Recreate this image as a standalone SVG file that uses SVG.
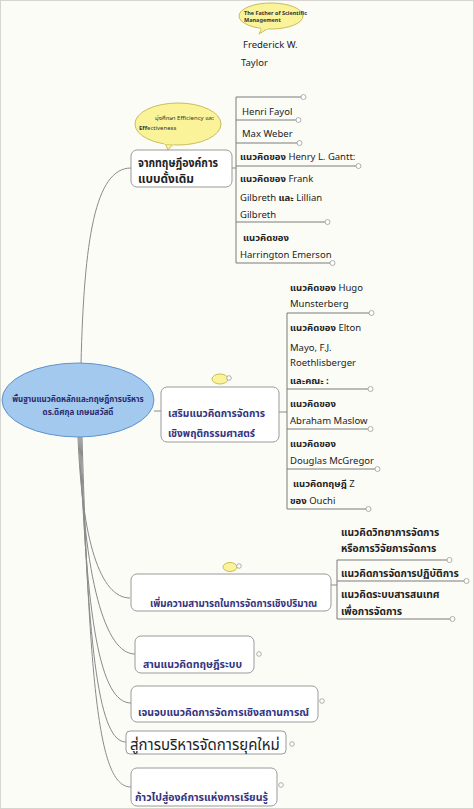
<svg xmlns="http://www.w3.org/2000/svg" width="474" height="809" viewBox="0 0 474 809">
<defs>
<style>
.bg{fill:#fcfcf7}
.box{fill:#ffffff;stroke:#9a9a9a;stroke-width:1}
.conn{fill:none;stroke:#8a8a8a;stroke-width:1}
.ul{fill:none;stroke:#7a7a7a;stroke-width:1}
.dot{fill:#ffffff;stroke:#9a9a9a;stroke-width:0.8}
.callout{fill:#fbf39a;stroke:#c9bd5a;stroke-width:1}
.t{font-family:"Noto Sans Thai","Noto Sans","Liberation Sans",sans-serif}
.leaf{font-size:9.5px;fill:#222}
.th{font-weight:bold}
.n1{font-size:11.5px;fill:#222;font-weight:bold}
.nb{font-size:11px;fill:#34347f;font-weight:bold}
.root{font-size:8px;fill:#2a2a6a;font-weight:bold}
.l3{font-size:10.2px}
</style>
</defs>
<rect class="bg" x="0" y="0" width="474" height="809"/>
<rect x="0.5" y="0.5" width="473" height="808" fill="none" stroke="#d6d6d0"/>

<g id="connectors">
<path class="conn" d="M81 364 C84 240 95 168 131 168"/>
<path class="conn" d="M154 411 L161 411"/>
<path class="conn" d="M78 437 C82 540 100 598 130 598"/>
<path class="conn" d="M79 437 C84 580 105 654 135 654"/>
<path class="conn" d="M80 437 C86 620 100 703 131 703"/>
<path class="conn" d="M81 437 C88 660 100 742 126 742"/>
<path class="conn" d="M82 437 C90 700 100 787 131 787"/>
<path class="conn" d="M232 168 L236 168"/>
<path class="conn" d="M279 412 L287 412"/>
<path class="conn" d="M331 585 L337 585"/>
</g>

<g id="root">
<ellipse cx="78" cy="400" rx="76" ry="37" fill="#a3c9ee" stroke="#5f93cf" stroke-width="1"/>
<text class="t root" x="78" y="402" text-anchor="middle">พื้นฐานแนวคิดหลักและทฤษฎีการบริหาร</text>
<text class="t root" x="78" y="415" text-anchor="middle">ดร.ดิศกุล  เกษมสวัสดิ์</text>
</g>

<g id="taylor">
<path class="callout" d="M262 28 L259 34 L268 28.5"/>
<ellipse class="callout" cx="271" cy="16" rx="32" ry="13"/>
<path d="M261 28.5 L268 28.5" stroke="#fbf39a" stroke-width="1.5"/>
<text class="t" x="244" y="15" font-size="5.5" font-weight="bold" fill="#333">The Father of Scientific</text>
<text class="t" x="244" y="22" font-size="5.5" font-weight="bold" fill="#333">Management</text>
<text class="t leaf" x="243" y="48">Frederick W.</text>
<text class="t leaf" x="241" y="66">Taylor</text>
</g>

<g id="node1">
<path class="callout" d="M165 143 L168 150 L173 144"/>
<ellipse class="callout" cx="178" cy="124" rx="43" ry="21"/>
<path d="M164 143 L174 143.5" stroke="#fbf39a" stroke-width="2"/>
<text class="t" x="155" y="120" font-size="6" fill="#333">มุ่งศึกษา Efficiency และ</text>
<text class="t" x="139" y="130" font-size="6" fill="#333"><tspan font-weight="bold">Eff</tspan>ectiveness</text>
<rect class="box" x="131" y="150" width="101" height="37" rx="6"/>
<text class="t n1" x="138" y="167" textLength="80" lengthAdjust="spacingAndGlyphs">จากทฤษฎีองค์การ</text>
<text class="t n1" x="138" y="183" textLength="56" lengthAdjust="spacingAndGlyphs">แบบดั้งเดิม</text>
</g>

<g id="node1-children">
<path class="ul" d="M236 97 L236 263"/>
<path class="ul" d="M236 97 L301 97"/><circle class="dot" cx="303.5" cy="97" r="2.5"/>
<text class="t leaf" x="242" y="115">Henri Fayol</text>
<path class="ul" d="M236 120 L296 120"/><circle class="dot" cx="298.5" cy="120" r="2.5"/>
<text class="t leaf" x="242" y="137">Max Weber</text>
<path class="ul" d="M236 143 L297 143"/><circle class="dot" cx="299.5" cy="143" r="2.5"/>
<text class="t leaf" x="240" y="160"><tspan class="th">แนวคิดของ</tspan> Henry L. Gantt:</text>
<path class="ul" d="M236 166 L356 166"/><circle class="dot" cx="358.5" cy="166" r="2.5"/>
<text class="t leaf" x="240" y="182"><tspan class="th">แนวคิดของ</tspan> Frank</text>
<text class="t leaf" x="240" y="201">Gilbreth <tspan class="th">และ</tspan> Lillian</text>
<text class="t leaf" x="240" y="218">Gilbreth</text>
<path class="ul" d="M236 222 L325 222"/><circle class="dot" cx="327.5" cy="222" r="2.5"/>
<text class="t leaf th" x="243" y="241">แนวคิดของ</text>
<text class="t leaf" x="240" y="258">Harrington Emerson</text>
<path class="ul" d="M236 263 L330 263"/><circle class="dot" cx="332.5" cy="263" r="2.5"/>
</g>

<g id="node2">
<ellipse class="callout" cx="220" cy="379" rx="8" ry="5"/>
<circle class="dot" cx="229" cy="378" r="2.3"/>
<rect class="box" x="161" y="387" width="118" height="55" rx="6"/>
<text class="t nb" x="168" y="417" textLength="97" lengthAdjust="spacingAndGlyphs">เสริมแนวคิดการจัดการ</text>
<text class="t nb" x="168" y="437" textLength="87" lengthAdjust="spacingAndGlyphs">เชิงพฤติกรรมศาสตร์</text>
</g>

<g id="node2-children">
<path class="ul" d="M287 313 L287 509"/>
<text class="t leaf" x="290" y="291"><tspan class="th">แนวคิดของ</tspan> Hugo</text>
<text class="t leaf" x="290" y="307">Munsterberg</text>
<path class="ul" d="M287 313 L369 313"/><circle class="dot" cx="371.5" cy="313" r="2.5"/>
<text class="t leaf" x="290" y="331"><tspan class="th">แนวคิดของ</tspan> Elton</text>
<text class="t leaf" x="290" y="351">Mayo, F.J.</text>
<text class="t leaf" x="290" y="366">Roethlisberger</text>
<text class="t leaf th" x="290" y="384">และคณะ :</text>
<path class="ul" d="M287 389 L368 389"/><circle class="dot" cx="370.5" cy="389" r="2.5"/>
<text class="t leaf th" x="290" y="407">แนวคิดของ</text>
<text class="t leaf" x="290" y="424">Abraham Maslow</text>
<path class="ul" d="M287 429 L368 429"/><circle class="dot" cx="370.5" cy="429" r="2.5"/>
<text class="t leaf th" x="290" y="447">แนวคิดของ</text>
<text class="t leaf" x="290" y="464">Douglas McGregor</text>
<path class="ul" d="M287 469 L375 469"/><circle class="dot" cx="377.5" cy="469" r="2.5"/>
<text class="t leaf" x="293" y="487" fill="#34347f"><tspan class="th">แนวคิดทฤษฎี</tspan> Z</text>
<text class="t leaf" x="290" y="504" fill="#34347f"><tspan class="th">ของ</tspan> Ouchi</text>
<path class="ul" d="M287 509 L366 509"/><circle class="dot" cx="368.5" cy="509" r="2.5"/>
</g>

<g id="node3">
<ellipse class="callout" cx="230" cy="567" rx="7" ry="4.5"/>
<circle class="dot" cx="239" cy="566" r="2.3"/>
<rect class="box" x="131" y="574" width="200" height="37" rx="6"/>
<text class="t nb" x="150" y="607" textLength="167" lengthAdjust="spacingAndGlyphs">เพิ่มความสามารถในการจัดการเชิงปริมาณ</text>
</g>

<g id="node3-children">
<path class="ul" d="M337 560 L337 619"/>
<text class="t leaf th l3" x="341" y="536">แนวคิดวิทยาการจัดการ</text>
<text class="t leaf th l3" x="341" y="552">หรือการวิจัยการจัดการ</text>
<path class="ul" d="M337 560 L447 560"/><circle class="dot" cx="449.5" cy="560" r="2.5"/>
<text class="t leaf th l3" x="341" y="577">แนวคิดการจัดการปฏิบัติการ</text>
<path class="ul" d="M337 581 L464 581"/><circle class="dot" cx="466.5" cy="581" r="2.5"/>
<text class="t leaf th l3" x="341" y="598">แนวคิดระบบสารสนเทศ</text>
<text class="t leaf th l3" x="341" y="615">เพื่อการจัดการ</text>
<path class="ul" d="M337 619 L450 619"/><circle class="dot" cx="452.5" cy="619" r="2.5"/>
</g>

<g id="node4">
<rect class="box" x="135" y="636" width="119" height="37" rx="6"/>
<text class="t nb" x="143" y="668" textLength="99" lengthAdjust="spacingAndGlyphs">สานแนวคิดทฤษฎีระบบ</text>
<circle class="dot" cx="259" cy="654" r="2.3"/>
</g>

<g id="node5">
<rect class="box" x="131" y="686" width="187" height="36" rx="6"/>
<text class="t nb" x="138" y="716" textLength="171" lengthAdjust="spacingAndGlyphs">เจนจบแนวคิดการจัดการเชิงสถานการณ์</text>
<circle class="dot" cx="322" cy="701" r="2.3"/>
</g>

<g id="node6">
<rect class="box" x="126" y="731" width="160" height="23" rx="4"/>
<text class="t" x="130" y="750" font-size="15" fill="#222">สู่การบริหารจัดการยุคใหม่</text>
<circle class="dot" cx="292" cy="744" r="2.3"/>
</g>

<g id="node7">
<rect class="box" x="131" y="768" width="146" height="38" rx="6"/>
<text class="t nb" x="135" y="801" font-size="10" textLength="133" lengthAdjust="spacingAndGlyphs">ก้าวไปสู่องค์การแห่งการเรียนรู้</text>
<circle class="dot" cx="281" cy="785" r="2.3"/>
</g>
</svg>
